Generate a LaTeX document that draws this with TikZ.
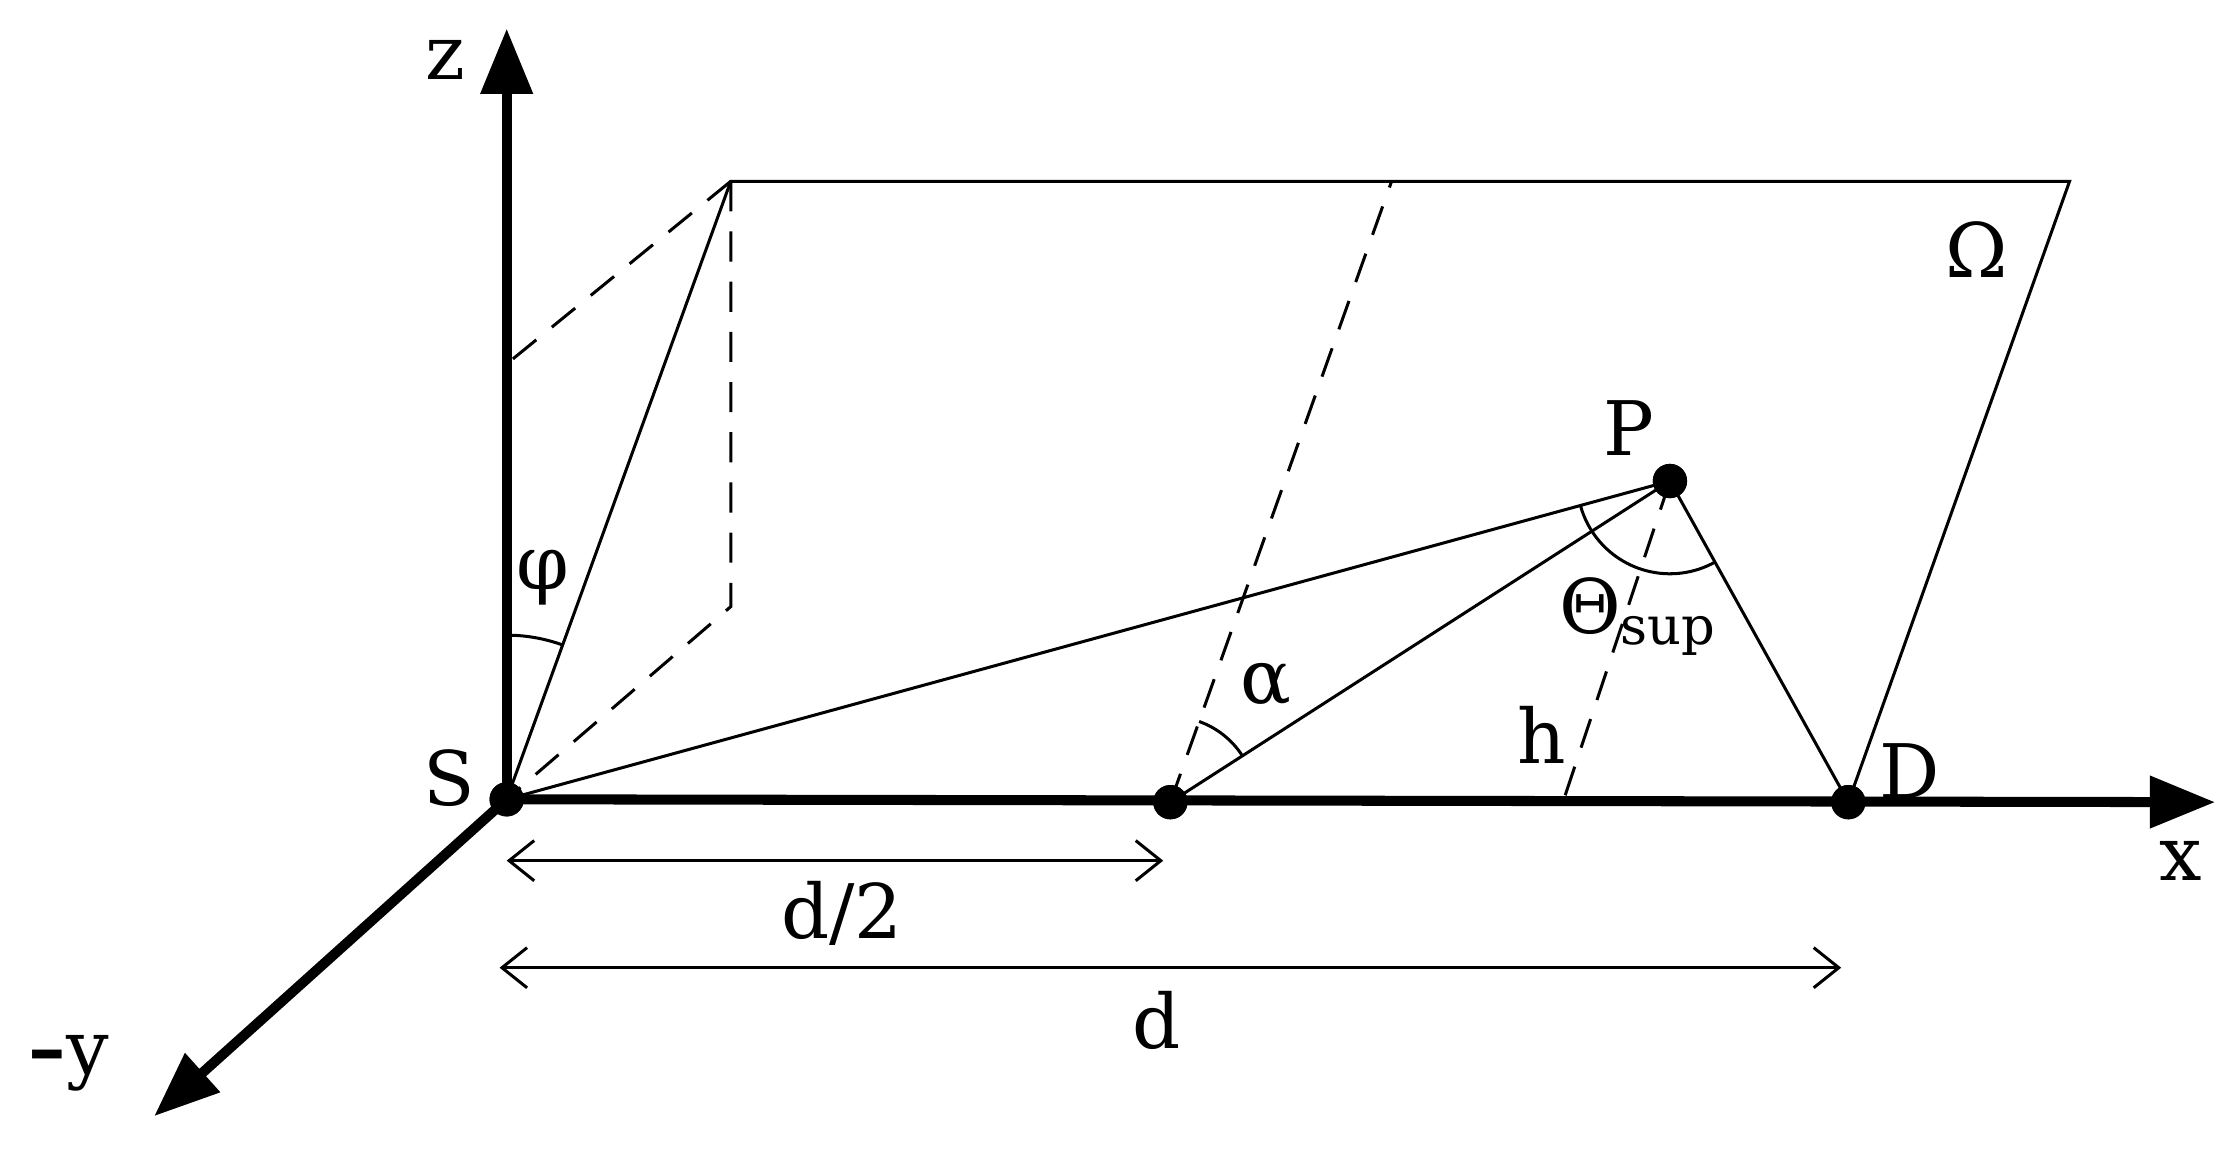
\documentclass[tikz,border=0pt]{standalone}
\usepackage{fontspec}
\setmainfont{DejaVu Serif}
\usetikzlibrary{arrows.meta,calc}
\begin{document}
\begin{tikzpicture}[x=0.01cm,y=-0.01cm,
  axis/.style={line width=2pt,-{Triangle[length=13pt,width=10pt]}},
  thin/.style={line width=0.6pt},
  dashline/.style={line width=0.6pt,dash pattern=on 6pt off 4pt},
  dot/.style={circle,fill=black,inner sep=0pt,minimum size=0.24cm},
  lbl/.style={font=\fontsize{15}{18}\selectfont},
  dim/.style={line width=0.6pt,{Straight Barb[length=5pt,width=8pt]}-{Straight Barb[length=5pt,width=8pt]}}]
\useasboundingbox (0,0) rectangle (1568,808);
\coordinate (zt) at (355,20);
\coordinate (xt) at (1552,562);
\coordinate (yt) at (108,782);
\coordinate (A) at (512,127);
\coordinate (B) at (1450,127);
\coordinate (Ab) at (512,425);
\coordinate (Az) at (355,255);
\coordinate (M2) at (975,127);
\coordinate (H) at (1095,562);
\node[dot] (S) at (355,560) {};
\node[dot] (M) at (820,562) {};
\node[dot] (D) at (1295,562) {};
\node[dot] (P) at (1170,337) {};
% plane
\draw[thin] (S.center) -- (A) -- (B) -- (D.center);
\draw[dashline] (A) -- (Ab) -- (S.center);
\draw[dashline] (A) -- (Az);
\draw[dashline] (M.center) -- (M2);
\draw[dashline] (P.center) -- (H);
\draw[thin] (S.center) -- (P.center) -- (M.center);
\draw[thin] (P.center) -- (D.center);
% axes
\draw[axis] (S.center) -- (zt);
\draw[axis] (S.center) -- (xt);
\draw[axis] (S.center) -- (yt);
\node[dot] at (S) {};\node[dot] at (M) {};\node[dot] at (D) {};\node[dot] at (P) {};
% angles
\draw[thin] ($(S.center)+(-70.1:115)$) arc[start angle=-70.1,end angle=-90,radius=115];
\draw[thin] ($(M.center)+(-32.7:60)$) arc[start angle=-32.7,end angle=-70.4,radius=60];
\draw[thin] ($(P.center)+(-195.3:65)$) arc[start angle=-195.3,end angle=-299.1,radius=65];
% dimensions
\coordinate (d1a) at (355,603); \coordinate (d1b) at (815,603);
\coordinate (d2a) at (350,678); \coordinate (d2b) at (1290,678);
\draw[dim] (d1a) -- (d1b);
\draw[dim] (d2a) -- (d2b);
% labels
\node[lbl] (lz) at (312,42) {z};
\node[lbl] (lx) at (1528,603) {x};
\node[lbl] (ly) at (48,745) {\textbf{–}y};
\node[lbl] (lS) at (315,545) {S};
\node[lbl] (lD) at (1338,540) {D};
\node[lbl] (lP) at (1141,300) {P};
\node[lbl] (lO) at (1385,175) {Ω};
\node[lbl] (lphi) at (380,405) {φ};
\node[lbl] (la) at (887,480) {α};
\node[lbl] (lh) at (1080,515) {h};
\node[lbl] (lt) at (1148,432) {Θ\textsubscript{sup}};
\node[lbl] (ld2) at (590,640) {d/2};
\node[lbl] (ld) at (810,715) {d};
\end{tikzpicture}
\end{document}
